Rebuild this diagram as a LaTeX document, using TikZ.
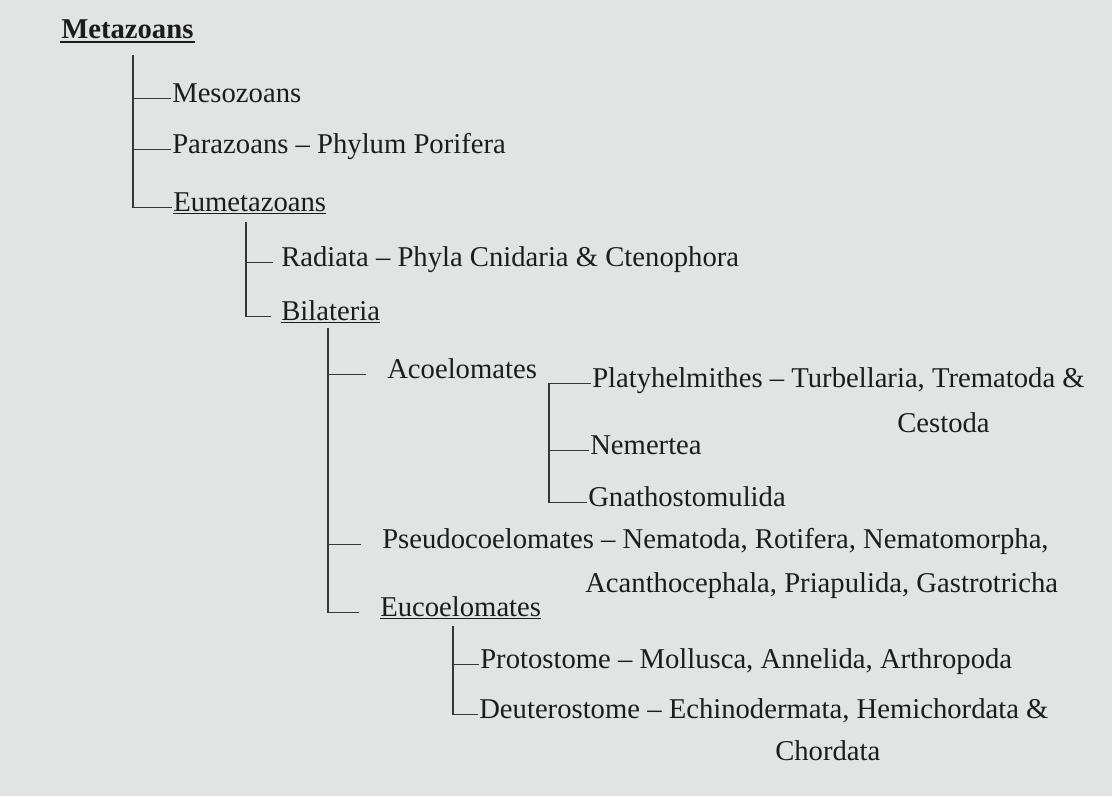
\documentclass[tikz,border=0pt]{standalone}
\usepackage{fontspec}
\setmainfont{Liberation Serif}
\definecolor{paper}{RGB}{224,228,226}
\definecolor{ink}{RGB}{28,28,28}
\definecolor{rule}{RGB}{55,55,55}
\begin{document}
\begin{tikzpicture}[x=0.75pt,y=0.75pt,yscale=-1,xscale=1,
  taxon/.style={anchor=base west,inner sep=0.75pt,text=ink,font=\fontsize{21.5}{26}\selectfont,text height=0.75em,text depth=0.25em},
  branch/.style={draw=rule,line width=0.8pt},
  heavyul/.style={draw=ink,line width=1.8pt}]
\useasboundingbox (0,0) rectangle (1112,796);
\fill[paper] (0,0) rectangle (1112,796);

% Text Node
\node[taxon] (meta) at (60,38) {\textbf{Metazoans}};
\draw[heavyul] ([yshift=3pt]meta.base west) -- ([yshift=3pt]meta.base east);
% Text Node
\node[taxon] (meso) at (171,102) {Mesozoans};
% Text Node
\node[taxon] (para) at (171,153) {Parazoans -- Phylum Porifera};
% Text Node
\node[taxon] (eumeta) at (172,211) {\underline{Eumetazoans}};
% Text Node
\node[taxon] (radiata) at (280,266) {Radiata -- Phyla Cnidaria \& Ctenophora};
% Text Node
\node[taxon] (bilat) at (280,320) {\underline{Bilateria}};
% Text Node
\node[taxon] (acoel) at (386,378) {Acoelomates};
% Text Node
\node[taxon] (platy) at (591,387) {Platyhelmithes -- Turbellaria, Trematoda \&};
\node[taxon] (platycont) at (896,432) {Cestoda};
% Text Node
\node[taxon] (nemer) at (589,454) {Nemertea};
% Text Node
\node[taxon] (gnath) at (587,506) {Gnathostomulida};
% Text Node
\node[taxon] (pseudo) at (381,548) {Pseudocoelomates -- Nematoda, Rotifera, Nematomorpha,};
\node[taxon] (pseudocont) at (584,592) {Acanthocephala, Priapulida, Gastrotricha};
% Text Node
\node[taxon] (euco) at (379,616) {\underline{Eucoelomates}};
% Text Node
\node[taxon] (proto) at (479,668) {Protostome -- Mollusca, Annelida, Arthropoda};
% Text Node
\node[taxon] (deutero) at (478,718) {Deuterostome -- Echinodermata, Hemichordata \&};
\node[taxon] (deuterocont) at (774,760) {Chordata};

%Tree: Metazoans
\coordinate (t1) at (133,55);
\draw[branch] (t1) |- (eumeta.west);
\draw[branch] (t1 |- meso.west) -- (meso.west);
\draw[branch] (t1 |- para.west) -- (para.west);
%Tree: Eumetazoans
\coordinate (t2) at (246,222);
\draw[branch,shorten >=7pt] (t2) |- (bilat.west);
\draw[branch,shorten >=5pt] (t2 |- radiata.west) -- (radiata.west);
%Tree: Bilateria
\coordinate (t3) at (328,328);
\draw[branch,shorten >=15pt] (t3) |- (euco.west);
\draw[branch,shorten >=15pt] (t3 |- acoel.west) -- (acoel.west);
\draw[branch,shorten >=15pt] (t3 |- pseudo.west) -- (pseudo.west);
%Tree: Acoelomates
\coordinate (t4) at (549,380);
\draw[branch] (platy.west) -- (t4 |- platy.west) |- (gnath.west);
\draw[branch] (t4 |- nemer.west) -- (nemer.west);
%Tree: Eucoelomates
\coordinate (t5) at (453,626);
\draw[branch] (t5) |- (deutero.west);
\draw[branch] (t5 |- proto.west) -- (proto.west);

\end{tikzpicture}
\end{document}
